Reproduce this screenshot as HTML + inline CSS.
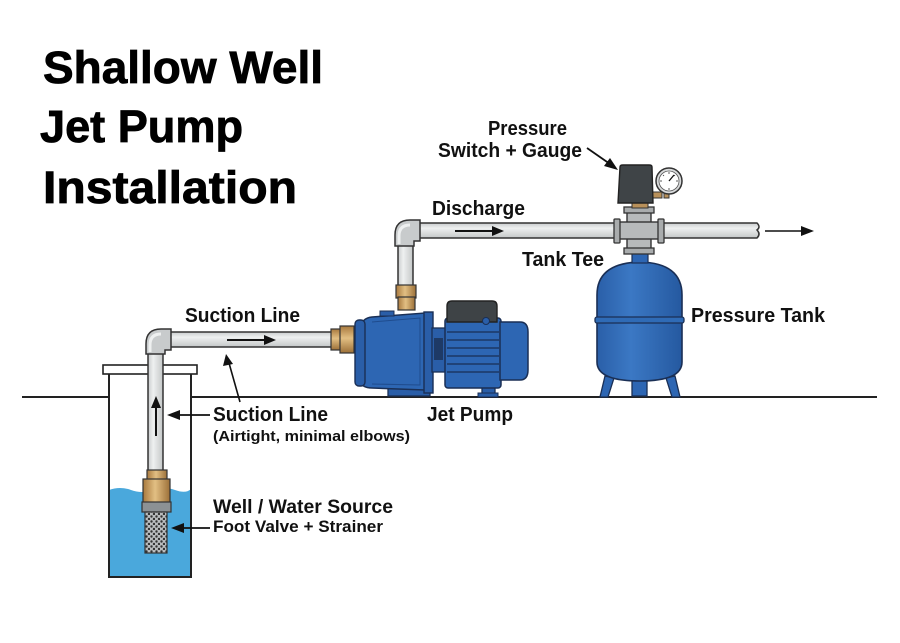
<!DOCTYPE html>
<html><head><meta charset="utf-8"><style>
html,body{margin:0;padding:0;background:#fff;}
svg{display:block;}
.t{font-family:"Liberation Sans Narrow","Liberation Sans",sans-serif;font-weight:bold;fill:#111;}
.ti{font-family:"Liberation Sans","DejaVu Sans",sans-serif;font-weight:bold;fill:#000;stroke:#000;stroke-width:0.8px;}
</style></head><body>
<svg width="900" height="643" viewBox="0 0 900 643" xmlns="http://www.w3.org/2000/svg">
<defs>
<linearGradient id="ph" x1="0" y1="0" x2="0" y2="1">
<stop offset="0" stop-color="#c9cccd"/><stop offset="0.35" stop-color="#eef0f0"/><stop offset="1" stop-color="#c4c7c8"/></linearGradient>
<linearGradient id="pv" x1="0" y1="0" x2="1" y2="0">
<stop offset="0" stop-color="#c9cccd"/><stop offset="0.35" stop-color="#eef0f0"/><stop offset="1" stop-color="#c4c7c8"/></linearGradient>
<linearGradient id="br" x1="0" y1="0" x2="1" y2="0">
<stop offset="0" stop-color="#a8793e"/><stop offset="0.45" stop-color="#e2bf83"/><stop offset="1" stop-color="#9c7038"/></linearGradient>
<linearGradient id="brh" x1="0" y1="0" x2="0" y2="1">
<stop offset="0" stop-color="#a8793e"/><stop offset="0.45" stop-color="#e2bf83"/><stop offset="1" stop-color="#9c7038"/></linearGradient>
<linearGradient id="tk" x1="0" y1="0" x2="1" y2="0">
<stop offset="0" stop-color="#2a5fa8"/><stop offset="0.4" stop-color="#3b78c4"/><stop offset="1" stop-color="#2559a0"/></linearGradient>
<pattern id="holes" width="5" height="5" patternUnits="userSpaceOnUse">
<rect width="5" height="5" fill="#b9bcbe"/><circle cx="1.5" cy="1.5" r="1.2" fill="#333"/><circle cx="4" cy="4" r="1.2" fill="#333"/></pattern>
</defs>

<!-- Title -->
<text class="ti" x="43" y="83" font-size="45" textLength="280" lengthAdjust="spacingAndGlyphs">Shallow Well</text>
<text class="ti" x="40" y="142" font-size="45" textLength="203" lengthAdjust="spacingAndGlyphs">Jet Pump</text>
<text class="ti" x="43" y="203" font-size="45" textLength="254" lengthAdjust="spacingAndGlyphs">Installation</text>

<!-- Ground -->
<line x1="22" y1="397" x2="108" y2="397" stroke="#222" stroke-width="2"/>
<line x1="192" y1="397" x2="877" y2="397" stroke="#222" stroke-width="2"/>

<!-- Well -->
<path d="M109,490 Q120,486 131,490 T153,490 T175,490 T191,489 L191,577 L109,577 Z" fill="#4aa8dc"/>
<path d="M109,374 L109,577 L191,577 L191,374" fill="none" stroke="#222" stroke-width="2"/>
<rect x="103" y="365" width="94" height="9" fill="#fff" stroke="#222" stroke-width="1.6"/>

<!-- suction vertical pipe -->
<rect x="148" y="343" width="15" height="128" fill="url(#pv)" stroke="#333" stroke-width="1.5"/>
<!-- foot valve -->
<rect x="147" y="470" width="20" height="10" fill="url(#br)" stroke="#333" stroke-width="1.2"/>
<rect x="143" y="479" width="27" height="24" fill="url(#br)" stroke="#333" stroke-width="1.2"/>
<rect x="142" y="502" width="29" height="10" fill="#8c9194" stroke="#333" stroke-width="1.2"/>
<rect x="145" y="512" width="22" height="41" fill="url(#holes)" stroke="#333" stroke-width="1.2"/>
<!-- up arrow -->
<line x1="156" y1="436" x2="156" y2="404" stroke="#111" stroke-width="2"/>
<path d="M151,408 L156,396 L161,408 Z" fill="#111"/>

<!-- suction horizontal pipe -->
<rect x="163" y="332" width="170" height="15" fill="url(#ph)" stroke="#333" stroke-width="1.5"/>
<!-- elbow -->
<path d="M146,354 L146,344 Q146,329 161,329 L171,329 L171,350 L165,350 L165,354 Z" fill="#c8cbcc" stroke="#333" stroke-width="1.5"/>
<path d="M150,352 L150,345 Q150,334 161,334" fill="none" stroke="#eef0f0" stroke-width="3"/>
<!-- flow arrow -->
<line x1="227" y1="340" x2="266" y2="340" stroke="#111" stroke-width="2"/>
<path d="M264,335 L276,340 L264,345 Z" fill="#111"/>

<!-- brass at pump inlet -->
<rect x="331" y="329" width="10" height="21" fill="url(#brh)" stroke="#333" stroke-width="1.2"/>
<rect x="340" y="326" width="14" height="27" fill="url(#brh)" stroke="#333" stroke-width="1.2"/>

<!-- Pump -->
<rect x="388" y="384" width="42" height="12" fill="#2a5ea8" stroke="#1a2f55" stroke-width="1.3"/>
<rect x="482" y="382" width="13" height="14" fill="#2a5ea8" stroke="#1a2f55" stroke-width="1.3"/>
<rect x="478" y="393" width="20" height="4" fill="#2a5ea8" stroke="#1a2f55" stroke-width="1"/>
<path d="M360,328 Q362,318 372,317 L425,313 L425,390 L372,388 Q360,388 360,378 Z" fill="#2d66b3" stroke="#1a2f55" stroke-width="1.5"/>
<rect x="355" y="320" width="10" height="66" rx="4" fill="#2a5ea8" stroke="#1a2f55" stroke-width="1.4"/>
<path d="M372,322 L420,318 L420,385 L372,384" fill="none" stroke="#1f4c8e" stroke-width="1"/>
<rect x="424" y="312" width="9" height="81" fill="#2a5ea8" stroke="#1a2f55" stroke-width="1.4"/>
<rect x="432" y="328" width="14" height="44" fill="#2a5ea8" stroke="#1a2f55" stroke-width="1.3"/>
<rect x="434" y="338" width="9" height="22" fill="#1e3a66"/>
<rect x="380" y="311" width="14" height="5" fill="#2a5ea8" stroke="#1a2f55" stroke-width="1"/>
<!-- motor -->
<rect x="445" y="318" width="56" height="70" rx="3" fill="#2d66b3" stroke="#1a2f55" stroke-width="1.5"/>
<g stroke="#1a2f55" stroke-width="1.2">
<line x1="447" y1="332" x2="499" y2="332"/><line x1="447" y1="340" x2="499" y2="340"/>
<line x1="447" y1="348" x2="499" y2="348"/><line x1="447" y1="356" x2="499" y2="356"/>
<line x1="447" y1="364" x2="499" y2="364"/><line x1="447" y1="372" x2="499" y2="372"/>
</g>
<path d="M447,322 L447,306 Q447,301 452,301 L492,301 Q497,301 497,306 L497,322 Z" fill="#3e4346" stroke="#222" stroke-width="1.4"/>
<circle cx="486" cy="321" r="3.5" fill="#2a5ea8" stroke="#1a2f55" stroke-width="1"/>
<path d="M500,322 L520,322 Q528,322 528,332 L528,370 Q528,380 520,380 L500,380 Z" fill="#2d66b3" stroke="#1a2f55" stroke-width="1.5"/>

<!-- discharge vertical pipe -->
<rect x="398" y="238" width="15" height="50" fill="url(#pv)" stroke="#333" stroke-width="1.5"/>
<rect x="396" y="285" width="20" height="13" fill="url(#br)" stroke="#333" stroke-width="1.2"/>
<rect x="398" y="297" width="17" height="13" fill="url(#br)" stroke="#333" stroke-width="1.2"/>
<!-- discharge horizontal pipe -->
<rect x="418" y="223" width="200" height="15" fill="url(#ph)" stroke="#333" stroke-width="1.5"/>
<path d="M395,246 L395,235 Q395,220 410,220 L420,220 L420,241 L414,241 L414,246 Z" fill="#c8cbcc" stroke="#333" stroke-width="1.5"/>
<path d="M399,244 L399,236 Q399,225 410,225" fill="none" stroke="#eef0f0" stroke-width="3"/>
<line x1="455" y1="231" x2="494" y2="231" stroke="#111" stroke-width="2"/>
<path d="M492,226 L504,231 L492,236 Z" fill="#111"/>

<!-- right pipe -->
<path d="M662,223 L757,223 Q761,227 757,230 Q761,234 757,238 L662,238 Z" fill="url(#ph)" stroke="#333" stroke-width="1.5"/>
<line x1="765" y1="231" x2="803" y2="231" stroke="#111" stroke-width="1.6"/>
<path d="M801,226 L814,231 L801,236 Z" fill="#111"/>

<!-- Tank -->
<path d="M605,376 L614,378 L608,397 L600,397 Z" fill="#2d66b3" stroke="#1a2f55" stroke-width="1.3"/>
<path d="M675,376 L666,378 L672,397 L680,397 Z" fill="#2d66b3" stroke="#1a2f55" stroke-width="1.3"/>
<rect x="632" y="376" width="15" height="20" fill="#2d66b3" stroke="#1a2f55" stroke-width="1.3"/>
<path d="M597,362 L597,295 Q597,263 640,262 Q682,263 682,295 L682,362 Q682,381 640,381 Q597,381 597,362 Z" fill="url(#tk)" stroke="#1a2f55" stroke-width="1.6"/>
<rect x="595" y="317" width="89" height="6" rx="2" fill="#2f6bb6" stroke="#1a2f55" stroke-width="1.3"/>
<rect x="632" y="252" width="16" height="11" fill="#2d66b3" stroke="#1a2f55" stroke-width="1.2"/>

<!-- Tee cross -->
<rect x="627" y="212" width="24" height="38" fill="#b7babb" stroke="#333" stroke-width="1.4"/>
<rect x="618" y="222" width="42" height="17" fill="#b7babb" stroke="#333" stroke-width="1.4"/>
<rect x="614" y="219" width="6" height="24" rx="1" fill="#a9acad" stroke="#333" stroke-width="1.3"/>
<rect x="658" y="219" width="6" height="24" rx="1" fill="#a9acad" stroke="#333" stroke-width="1.3"/>
<rect x="624" y="207" width="30" height="6" fill="#a9acad" stroke="#333" stroke-width="1.3"/>
<rect x="624" y="248" width="30" height="6" fill="#a9acad" stroke="#333" stroke-width="1.3"/>
<rect x="632" y="202" width="16" height="6" fill="#b8905a" stroke="#333" stroke-width="1"/>

<!-- Pressure switch -->
<path d="M652,192 L662,192 L662,198 L652,198 Z" fill="#b8905a" stroke="#333" stroke-width="1"/>
<rect x="664" y="190" width="5" height="8" fill="#b8905a" stroke="#333" stroke-width="1"/>
<path d="M620,167 Q620,165 623,165 L649,165 Q652,165 652,167 L653,203 L618,203 Z" fill="#3f4447" stroke="#222" stroke-width="1.4"/>
<circle cx="669" cy="181" r="13" fill="#d8dadb" stroke="#333" stroke-width="1.5"/>
<circle cx="669" cy="181" r="10" fill="#fff" stroke="#555" stroke-width="0.8"/>
<g stroke="#333" stroke-width="0.8">
<line x1="669" y1="172" x2="669" y2="174"/><line x1="678" y1="181" x2="676" y2="181"/><line x1="660" y1="181" x2="662" y2="181"/>
<line x1="675" y1="175" x2="674" y2="176"/><line x1="663" y1="175" x2="664" y2="176"/><line x1="669" y1="190" x2="669" y2="188"/>
</g>
<line x1="669" y1="181" x2="674" y2="175" stroke="#111" stroke-width="1.3"/>

<!-- Labels -->
<text class="t" x="488" y="135" font-size="20" textLength="79" lengthAdjust="spacingAndGlyphs">Pressure</text>
<text class="t" x="438" y="157" font-size="20" textLength="144" lengthAdjust="spacingAndGlyphs">Switch + Gauge</text>
<line x1="587" y1="148" x2="610" y2="164" stroke="#111" stroke-width="1.8"/>
<path d="M604,166 L618,170 L610,158 Z" fill="#111"/>

<text class="t" x="432" y="215" font-size="20" textLength="93" lengthAdjust="spacingAndGlyphs">Discharge</text>
<text class="t" x="522" y="266" font-size="20" textLength="82" lengthAdjust="spacingAndGlyphs">Tank Tee</text>
<text class="t" x="691" y="322" font-size="20" textLength="134" lengthAdjust="spacingAndGlyphs">Pressure Tank</text>
<text class="t" x="185" y="322" font-size="20" textLength="115" lengthAdjust="spacingAndGlyphs">Suction Line</text>

<line x1="240" y1="402" x2="229" y2="363" stroke="#111" stroke-width="1.6"/>
<path d="M223,366 L226,354 L233,364 Z" fill="#111"/>

<line x1="210" y1="415" x2="177" y2="415" stroke="#111" stroke-width="1.8"/>
<path d="M180,410 L167,415 L180,420 Z" fill="#111"/>
<text class="t" x="213" y="421" font-size="20" textLength="115" lengthAdjust="spacingAndGlyphs">Suction Line</text>
<text class="t" x="213" y="441" font-size="15" textLength="197" lengthAdjust="spacingAndGlyphs">(Airtight, minimal elbows)</text>
<text class="t" x="427" y="421" font-size="20" textLength="86" lengthAdjust="spacingAndGlyphs">Jet Pump</text>

<text class="t" x="213" y="513" font-size="19" textLength="180" lengthAdjust="spacingAndGlyphs">Well / Water Source</text>
<line x1="210" y1="528" x2="182" y2="528" stroke="#111" stroke-width="1.8"/>
<path d="M184,523 L171,528 L184,533 Z" fill="#111"/>
<text class="t" x="213" y="532" font-size="17" textLength="170" lengthAdjust="spacingAndGlyphs">Foot Valve + Strainer</text>
</svg>
</body></html>
